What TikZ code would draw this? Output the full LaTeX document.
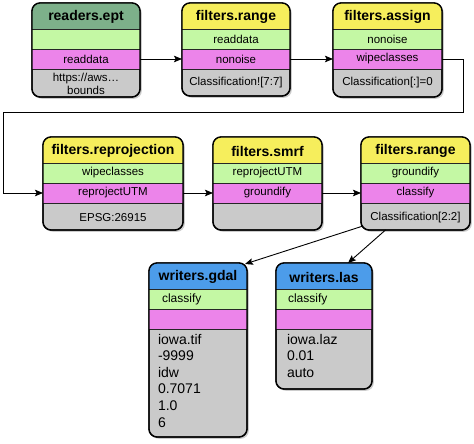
\documentclass[tikz,border=0pt]{standalone}
\usepackage{fontspec}
\setmainfont{Liberation Sans}
\usetikzlibrary{arrows.meta,shadows,calc}
\definecolor{hdrgreen}{RGB}{125,176,138}
\definecolor{hdryellow}{RGB}{246,238,92}
\definecolor{hdrblue}{RGB}{76,156,234}
\definecolor{rowgreen}{RGB}{196,248,164}
\definecolor{rowmag}{RGB}{236,132,234}
\definecolor{rowgray}{RGB}{202,202,202}
\tikzset{
  outer/.style={draw, line width=1.3pt, rounded corners=8pt, fill=rowgray, inner sep=0pt, outer sep=0pt,
    drop shadow={shadow xshift=1.8pt, shadow yshift=-1.8pt, opacity=0.4}},
  hdr/.style={inner sep=0pt, outer sep=0pt, font=\fontsize{14}{16}\selectfont\bfseries},
  row/.style={inner sep=0pt, outer sep=0pt, font=\fontsize{11.5}{13}\selectfont},
  wtxt/.style={inner sep=0pt, outer sep=0pt, font=\fontsize{12}{14}\selectfont},
  gtxt/.style={inner sep=0pt, outer sep=0pt, align=center, font=\fontsize{11.5}{12.5}\selectfont},
  wgtxt/.style={inner sep=0pt, outer sep=0pt, align=left, font=\fontsize{14}{16.6}\selectfont},
  sep/.style={line width=0.9pt, black!85},
  conn/.style={line width=0.9pt, -{Stealth[length=8pt,width=6.5pt,inset=1.5pt]}},
}
% name, L, R, T, B, header colour, title, green text, magenta text
\newcommand\stagebox[9]{%
  \pgfmathsetmacro\sbW{#3-#2}%
  \pgfmathsetmacro\sbH{#5-#4}%
  \pgfmathsetmacro\sbX{(#2+#3)/2}%
  \node[outer, minimum width=\sbW pt, minimum height=\sbH pt] (#1) at (\sbX,{(#4+#5)/2}) {};
  \begin{scope}
    \clip[rounded corners=8pt] (#2,#4) rectangle (#3,#5);
    \fill[#6] (#2,#4) rectangle (#3,#4+26);
    \fill[rowgreen] (#2,#4+26) rectangle (#3,#4+46);
    \fill[rowmag] (#2,#4+46) rectangle (#3,#4+66);
    \draw[sep] (#2,#4+26) -- (#3,#4+26);
    \draw[sep] (#2,#4+46) -- (#3,#4+46);
    \draw[sep] (#2,#4+66) -- (#3,#4+66);
  \end{scope}
  \draw[line width=1.3pt, rounded corners=8pt] (#2,#4) rectangle (#3,#5);
  \node[hdr] (#1-h) at (\sbX,#4+14) {#7};
  \node[row, minimum width=\sbW pt, minimum height=20pt] (#1-g) at (\sbX,#4+36) {#8};
  \node[row, minimum width=\sbW pt, minimum height=20pt] (#1-m) at (\sbX,#4+56) {#9};
}
\begin{document}
\begin{tikzpicture}[x=1pt,y=-1pt]
\useasboundingbox (0,0) rectangle (474,444);
\stagebox{ept}{32}{140}{3}{97}{hdrgreen}{readers.ept}{}{readdata}
\node[gtxt] (ept-x) at (86,84) {https://aws…\\bounds};
\stagebox{rangeA}{182}{290}{3}{96}{hdryellow}{filters.range}{readdata}{nonoise}
\node[gtxt] (rangeA-x) at (236,82.5) {Classification![7:7]};
\stagebox{assign}{333}{442}{3}{97}{hdryellow}{filters.assign}{nonoise}{wipeclasses}
\node[gtxt] (assign-x) at (387.5,83) {Classification[:]=0};
\stagebox{reproj}{43}{183}{137}{230}{hdryellow}{filters.reprojection}{wipeclasses}{reprojectUTM}
\node[gtxt] (reproj-x) at (113,217.5) {EPSG:26915};
\stagebox{smrf}{213}{322}{137}{230}{hdryellow}{filters.smrf}{reprojectUTM}{groundify}
\stagebox{rangeB}{361}{470}{137}{230}{hdryellow}{filters.range}{groundify}{classify}
\node[gtxt] (rangeB-x) at (415.5,217.5) {Classification[2:2]};
\stagebox{gdal}{149}{247}{263}{437}{hdrblue}{writers.gdal}{}{}
\node[wtxt, anchor=west] (gdal-gt) at (162,299) {classify};
\node[wgtxt, anchor=north west] (gdal-x) at (158,334) {iowa.tif\\-9999\\idw\\0.7071\\1.0\\6};
\stagebox{las}{276}{372}{263}{389}{hdrblue}{writers.las}{}{}
\node[wtxt, anchor=west] (las-gt) at (288,299) {classify};
\node[wgtxt, anchor=north west] (las-x) at (287,334) {iowa.laz\\0.01\\auto};
% connectors
\coordinate (c1) at (463,112);
\coordinate (c2) at (3,112);
\draw[conn] (ept-m.east) -- (rangeA-m.west);
\draw[conn] (rangeA-m.east) -- (assign-m.west);
\draw[conn] (assign-m.east) -| (c1) -- (c2) |- (reproj-m.west);
\draw[conn] (reproj-m.east) -- (smrf-m.west);
\draw[conn] (smrf-m.east) -- (rangeB-m.west);
\draw[conn] ([shift={(2,-4)}]rangeB.south west) -- ([shift={(-2,1)}]gdal.north east);
\draw[conn] ([xshift=-30pt]rangeB.south) -- ([xshift=24pt]las.north);
\end{tikzpicture}
\end{document}
